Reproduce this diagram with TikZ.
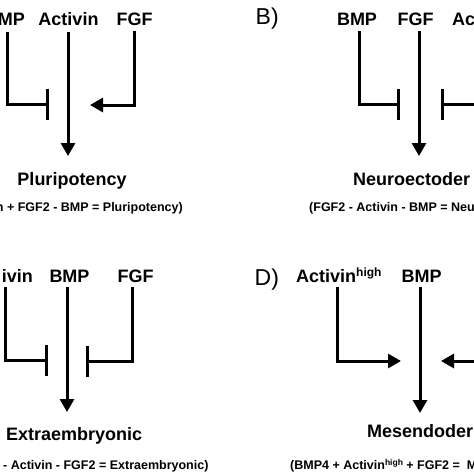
\documentclass[tikz,border=0pt]{standalone}
\usepackage{fontspec}
\setmainfont{Liberation Sans}
\usetikzlibrary{arrows.meta}
\tikzset{
  lbl/.style={inner sep=0pt, font=\bfseries\fontsize{18}{20}\selectfont},
  res/.style={inner sep=0pt, font=\bfseries\fontsize{18}{20}\selectfont},
  eqn/.style={inner sep=0pt, font=\bfseries\fontsize{12.5}{14}\selectfont},
  panel/.style={inner sep=0pt, font=\fontsize{23}{25}\selectfont},
  wire/.style={line width=3pt, black},
  act/.style={wire, -{Triangle[length=13pt,width=14pt]}},
  inh/.style={wire, -{Bar[width=31pt]}}
}
\newcommand{\hisup}[1]{\raisebox{5.5pt}{\fontsize{12}{12}\selectfont #1}}
\newcommand{\hisupsm}[1]{\raisebox{3.8pt}{\fontsize{8.5}{9}\selectfont #1}}
\begin{document}
\begin{tikzpicture}[x=1pt,y=-1pt]
\useasboundingbox[fill=white] (0,0) rectangle (474,474);

% ---------- Panel A ----------
\node[lbl, anchor=base east] (Abmp) at (25,25) {MP};
\node[lbl, anchor=base] (Aact) at (68.5,25) {Activin};
\node[lbl, anchor=base] (Afgf) at (134.5,25) {FGF};
\node[res, anchor=base] (Ares) at (72,185) {Pluripotency};
\node[eqn, anchor=base east] (Aeq) at (183,211) {n + FGF2 - BMP = Pluripotency)};
\coordinate (Abmp0) at (7,32);
\coordinate (Abar) at (49,104);
\coordinate (Aact0) at (68,32);
\coordinate (Atip) at (68,156);
\coordinate (Afgf0) at (134,31);
\coordinate (Afgf1) at (90,105);
\draw[inh] (Abmp0) |- (Abar);
\draw[act] (Aact0) -- (Atip);
\draw[act] (Afgf0) |- (Afgf1);

% ---------- Panel B ----------
\node[panel, anchor=base west] (Blab) at (255.5,24) {B)};
\node[lbl, anchor=base] (Bbmp) at (357,25) {BMP};
\node[lbl, anchor=base] (Bfgf) at (415.5,25) {FGF};
\node[lbl, anchor=base west] (Bact) at (452,25) {Ac};
\node[res, anchor=base west] (Bres) at (353,185) {Neuroectoder};
\node[eqn, anchor=base west] (Beq) at (309,211) {(FGF2 - Activin - BMP = Neu};
\coordinate (Bbmp0) at (359,31);
\coordinate (Bbar) at (400,104);
\coordinate (Bfgf0) at (419,31);
\coordinate (Btip) at (419,156);
\coordinate (Bact0) at (480,104);
\coordinate (Bbar2) at (441,104);
\draw[inh] (Bbmp0) |- (Bbar);
\draw[act] (Bfgf0) -- (Btip);
\draw[inh] (Bact0) -- (Bbar2);

% ---------- Panel C ----------
\node[lbl, anchor=base east] (Cact) at (33,282) {ivin};
\node[lbl, anchor=base] (Cbmp) at (69.5,282) {BMP};
\node[lbl, anchor=base] (Cfgf) at (135.5,282) {FGF};
\node[res, anchor=base west] (Cres) at (6,440) {Extraembryonic};
\node[eqn, anchor=base west] (Ceq) at (3,469.5) {- Activin - FGF2 = Extraembryonic)};
\coordinate (Cact0) at (5,287);
\coordinate (Cbar) at (48,360);
\coordinate (Cbmp0) at (67,287);
\coordinate (Ctip) at (67,412);
\coordinate (Cfgf0) at (132,287);
\coordinate (Cbar2) at (86,361);
\draw[inh] (Cact0) |- (Cbar);
\draw[act] (Cbmp0) -- (Ctip);
\draw[inh] (Cfgf0) |- (Cbar2);

% ---------- Panel D ----------
\node[panel, anchor=base west] (Dlab) at (254.5,285) {D)};
\node[lbl, anchor=base west] (Dact) at (296,282) {Activin\hisup{high}};
\node[lbl, anchor=base] (Dbmp) at (421.7,282) {BMP};
\node[res, anchor=base west] (Dres) at (367,437.5) {Mesendoder};
\node[eqn, anchor=base west] (Deq) at (290,469.5) {(BMP4 + Activin\hisupsm{high} + FGF2 =\ \ M};
\coordinate (Dact0) at (337,287);
\coordinate (Dact1) at (401,361);
\coordinate (Dbmp0) at (420,287);
\coordinate (Dtip) at (420,413);
\coordinate (Dfgf0) at (480,361);
\coordinate (Dfgf1) at (441,361);
\draw[act] (Dact0) |- (Dact1);
\draw[act] (Dbmp0) -- (Dtip);
\draw[act] (Dfgf0) -- (Dfgf1);
\end{tikzpicture}
\end{document}
